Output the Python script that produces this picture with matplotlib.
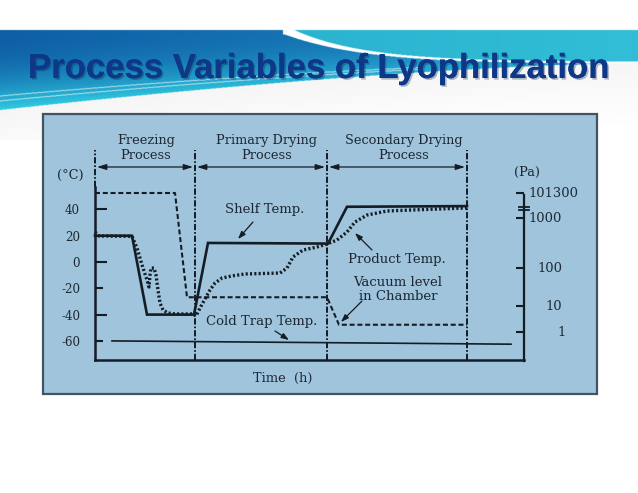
import numpy as np
import matplotlib
matplotlib.use('Agg')
import matplotlib.pyplot as plt
from matplotlib.transforms import Affine2D
from matplotlib.patches import Rectangle
from matplotlib.lines import Line2D
from matplotlib.ticker import NullLocator
import matplotlib.patheffects as pe

plt.rcParams['lines.scale_dashes'] = False
plt.rcParams['font.family'] = ['DejaVu Serif']

# ---------------- data ----------------
title = 'Process Variables of Lyophilization'
phase_names = ['Freezing\nProcess', 'Primary Drying\nProcess', 'Secondary Drying\nProcess']
phase_bounds_h = [0.0, 10.0, 23.2, 37.2]

shelf_t = [0, 3.7, 5.2, 9.9, 11.3, 23.3, 25.2, 37.2]
shelf_T = [20, 20, -40, -40, 14.5, 14, 42, 42.5]

product_t = [0.0, 0.4, 3.7, 4.2, 4.5, 4.8, 5.2, 5.4, 5.5, 5.6, 5.9, 6.1, 6.3, 6.5, 6.8,
             7.3, 8.0, 9.8, 10.1, 10.5, 11.0, 11.5, 12.0, 12.7, 13.7, 15.0, 18.5, 19.2,
             19.8, 20.8, 22.2, 23.2, 24.2, 25.2, 26.0, 27.2, 29.2, 31.5, 37.2]
product_T = [22.8, 19.8, 19.5, 10.6, 3.0, -4.6, -13.7, -19.0, -9.9, -4.6, -4.6, -9.9,
             -21.3, -31.2, -36.5, -38.8, -39.5, -39.5, -41.1, -35.0, -28.1, -21.3, -16.0,
             -12.2, -10.6, -9.1, -8.4, -4.6, 3.8, 9.1, 11.4, 13.7, 16.7, 22.8, 30.4, 35.7,
             38.8, 39.5, 41.1]

vacuum_t = [0, 8.0, 9.2, 23.2, 24.4, 37.2]
vacuum_pa = [101300, 101300, 17, 17, 1.9, 1.9]

coldtrap_t = [1.7, 41.6]
coldtrap_T = [-60, -62.5]

temp_major = [40, 0, -40]
temp_minor = [20, -20, -60]
pa_ticks = [101300, 1000, 100, 10, 1]
pa_labels = ['101300', '1000', '100', '10', '1']

# ---------------- layout helpers ----------------
W, H = 638, 493
X0, PXH = 95.0, 10.0      # pixel of t=0, pixels per hour
Y0, PXC = 262.0, 1.315    # pixel of 0 degC, pixels per degC


def tx(px):
    return (px - X0) / PXH


def ty(py):
    return (Y0 - py) / PXC


# pressure axis: log10(Pa) -> -pixel
LOGS = np.array([-3.0, 0.0, 1.0, 2.0, 3.0, np.log10(101300), 10.0])
POS = np.array([-410.0, -332.0, -306.0, -268.0, -218.0, -193.0, -100.0])


def fwd(p):
    p = np.asarray(p, dtype=float)
    return np.interp(np.log10(np.clip(p, 1e-12, None)), LOGS, POS)


def inv(y):
    y = np.asarray(y, dtype=float)
    return 10 ** np.interp(y, POS, LOGS)


dark = '#141c24'
textc = '#1d2833'

fig = plt.figure(figsize=(W / 100, H / 100), dpi=100)
fig.patch.set_facecolor('white')
pix = Affine2D().scale(1 / W, -1 / H).translate(0, 1) + fig.transFigure

# ---------------- header band ----------------
bg = fig.add_axes([0, 0, 1, 1], zorder=-5)
bg.patch.set_visible(False)
bg.axis('off')
S = 2
HB = 140
ys = np.arange(HB * S) / S + 0.5 / S
xs = np.arange(W * S) / S + 0.5 / S
X, Y = np.meshgrid(xs, ys)
top = 30.0
L = 63 + 47 * (1 - X / W) ** 1.5
hfac = X / W
c_dark = np.array([14, 94, 164]) / 255
c_mid = np.array([30, 138, 196]) / 255
c_teal = np.array([36, 170, 202]) / 255
c_teal2 = np.array([50, 190, 214]) / 255
c_cyan = np.array([48, 204, 226]) / 255
base = c_dark * (1 - hfac[..., None]) + c_mid * hfac[..., None]
v = np.clip((Y - top) / (L - top), 0, 1)
wc = (v ** 2.2) * (1 - 0.5 * hfac)
col = base * (1 - wc[..., None]) + c_cyan * wc[..., None]
inband = (Y >= top) & (Y <= L)
xs_ = np.clip(X - 285, 0, None)
ysw = 30 + 33 * (1 - np.exp(-xs_ / 75))
hw = 1.0 + 3.5 * np.exp(-xs_ / 45)
above = (X > 285) & (Y < ysw - hw)
tcol = c_teal * (1 - hfac[..., None]) + c_teal2 * hfac[..., None]
col = np.where(above[..., None], tcol, col)
white_sw = (X > 283) & (np.abs(Y - ysw) <= hw)
col[white_sw] = 1.0
# thin light lines in the lower-left part
for off in (9.0, 14.0):
    cl = L - off * (1 - X / W)
    m = (np.abs(Y - cl) < 0.5) & (X < 420)
    col[m] = col[m] * 0.35 + 0.65
fade = np.clip((Y - L) / 60.0, 0, 1)
below = 0.965 + 0.035 * fade
img = np.repeat(below[..., None], 3, axis=2)
img[inband] = col[inband]
img[Y < top] = 1.0
bg.imshow(img, extent=(0, W, HB, 0), interpolation='bilinear', aspect='auto')
bg.set_xlim(0, W)
bg.set_ylim(H, 0)

fig.text(28 / W, 1 - 78 / H, title, family='Liberation Sans', weight='bold', size=25,
         color='#0e3887', ha='left', va='baseline',
         path_effects=[pe.withSimplePatchShadow(offset=(1.2, -1.2), shadow_rgbFace='#06203f', alpha=0.3),
                       pe.Normal()])

# ---------------- panel ----------------
fig.patches.append(Rectangle((43, 114), 554, 280, transform=pix, facecolor='#9fc4dc',
                             edgecolor='#44535f', lw=1.6, zorder=-1))

ax = fig.add_axes([43 / W, 1 - 394 / H, 554 / W, 280 / H])
ax.set_facecolor('none')
ax.set_xlim(tx(43), tx(597))
ax.set_ylim(ty(394), ty(114))
for s in ['top', 'right']:
    ax.spines[s].set_visible(False)
ax.spines['left'].set_position(('data', phase_bounds_h[0]))
ax.spines['left'].set_bounds(ty(360), ty(187))
ax.spines['bottom'].set_position(('data', ty(360)))
ax.spines['bottom'].set_bounds(phase_bounds_h[0], tx(524))
for s in ['left', 'bottom']:
    ax.spines[s].set_linewidth(1.8)
    ax.spines[s].set_color(dark)
    ax.spines[s].set_capstyle('projecting')
ax.set_xticks([])
ax.yaxis.set_ticks_position('left')
ax.set_yticks(temp_major, labels=[str(vv) for vv in temp_major])
ax.set_yticks(temp_minor, labels=[str(vv) for vv in temp_minor], minor=True)
ax.tick_params(axis='y', which='both', direction='in', width=1.5, color=dark,
               labelcolor=textc, labelsize=8.6, pad=10.8)
ax.tick_params(axis='y', which='major', length=8.6)
ax.tick_params(axis='y', which='minor', length=5.8)

# series
ax.plot(shelf_t, shelf_T, color=dark, lw=1.9, solid_joinstyle='miter', zorder=4)
ax.plot(product_t, product_T, color=dark, lw=2.4, dashes=(1.5, 1.6), dash_capstyle='butt', zorder=4)
ax.plot(coldtrap_t, coldtrap_T, color=dark, lw=1.2, zorder=4)

# phase dividers
for b in phase_bounds_h:
    ylo = ty(187) if b == phase_bounds_h[0] else ty(360)
    ax.plot([b, b], [ylo, ty(150)], color=dark, lw=1.4, dashes=(4.5, 1.4, 1.2, 1.4), zorder=3)
for b0, b1 in zip(phase_bounds_h[:-1], phase_bounds_h[1:]):
    ax.annotate('', xy=(b1 - 0.2, ty(167)), xytext=(b0 + 0.2, ty(167)),
                arrowprops=dict(arrowstyle='<|-|>,head_length=0.55,head_width=0.17',
                                lw=0.9, color=dark, shrinkA=0, shrinkB=0))
for name, px in zip(phase_names, [146, 267, 404]):
    ax.text(tx(px), ty(148), name, ha='center', va='center', fontsize=9.3, color=textc)

ax.text(tx(70), ty(175), '(°C)', ha='center', va='center', fontsize=9.3, color=textc)
ax.text(tx(527), ty(172), '(Pa)', ha='center', va='center', fontsize=9.3, color=textc)
ax.text(tx(283), ty(378), 'Time  (h)', ha='center', va='center', fontsize=9.4, color=textc)

arrow_kw = dict(arrowstyle='-|>,head_length=0.45,head_width=0.16', lw=0.9, color=dark,
                shrinkA=0, shrinkB=0)
ax.text(tx(265), ty(209), 'Shelf Temp.', ha='center', va='center', fontsize=9.5, color=textc)
ax.annotate('', xy=(tx(238), ty(239)), xytext=(tx(253), ty(222)), arrowprops=arrow_kw)
ax.text(tx(397), ty(259), 'Product Temp.', ha='center', va='center', fontsize=9.5, color=textc)
ax.annotate('', xy=(tx(355), ty(233)), xytext=(tx(372), ty(250)), arrowprops=arrow_kw)
ax.text(tx(398), ty(289.5), 'Vacuum level\nin Chamber', ha='center', va='center',
        fontsize=9.5, color=textc)
ax.annotate('', xy=(tx(341), ty(322)), xytext=(tx(362), ty(301)), arrowprops=arrow_kw)
ax.text(tx(262), ty(321), 'Cold Trap Temp.', ha='center', va='center', fontsize=9.5, color=textc)
ax.annotate('', xy=(tx(289), ty(340)), xytext=(tx(275), ty(331)), arrowprops=arrow_kw)

# pressure axis
ax2 = ax.twinx()
ax2.set_yscale('function', functions=(fwd, inv))
ax2.set_ylim(inv(-394), inv(-114))
for s in ['top', 'left', 'bottom']:
    ax2.spines[s].set_visible(False)
ax2.spines['right'].set_position(('data', tx(524)))
ax2.spines['right'].set_bounds(inv(-361), inv(-195))
ax2.spines['right'].set_linewidth(1.6)
ax2.spines['right'].set_color(dark)
ax2.set_yticks(pa_ticks)
ax2.yaxis.set_minor_locator(NullLocator())
ax2.tick_params(axis='y', direction='in', length=5.8, width=1.5, color=dark, labelright=False)
ax2.plot(vacuum_t, vacuum_pa, color=dark, lw=1.5, dashes=(3.6, 2.0), zorder=4)
for val, lab, px in zip(pa_ticks, pa_labels, [528, 528, 537, 545, 557]):
    ax2.text(tx(px), val, lab, ha='left', va='center', fontsize=9.4, color=textc)

# axis break marks on the pressure axis
for yy in (207, 210):
    fig.add_artist(Line2D([519, 529], [yy, yy], transform=pix, color=dark, lw=1.3, zorder=6))

fig.savefig('out.png', dpi=100)
